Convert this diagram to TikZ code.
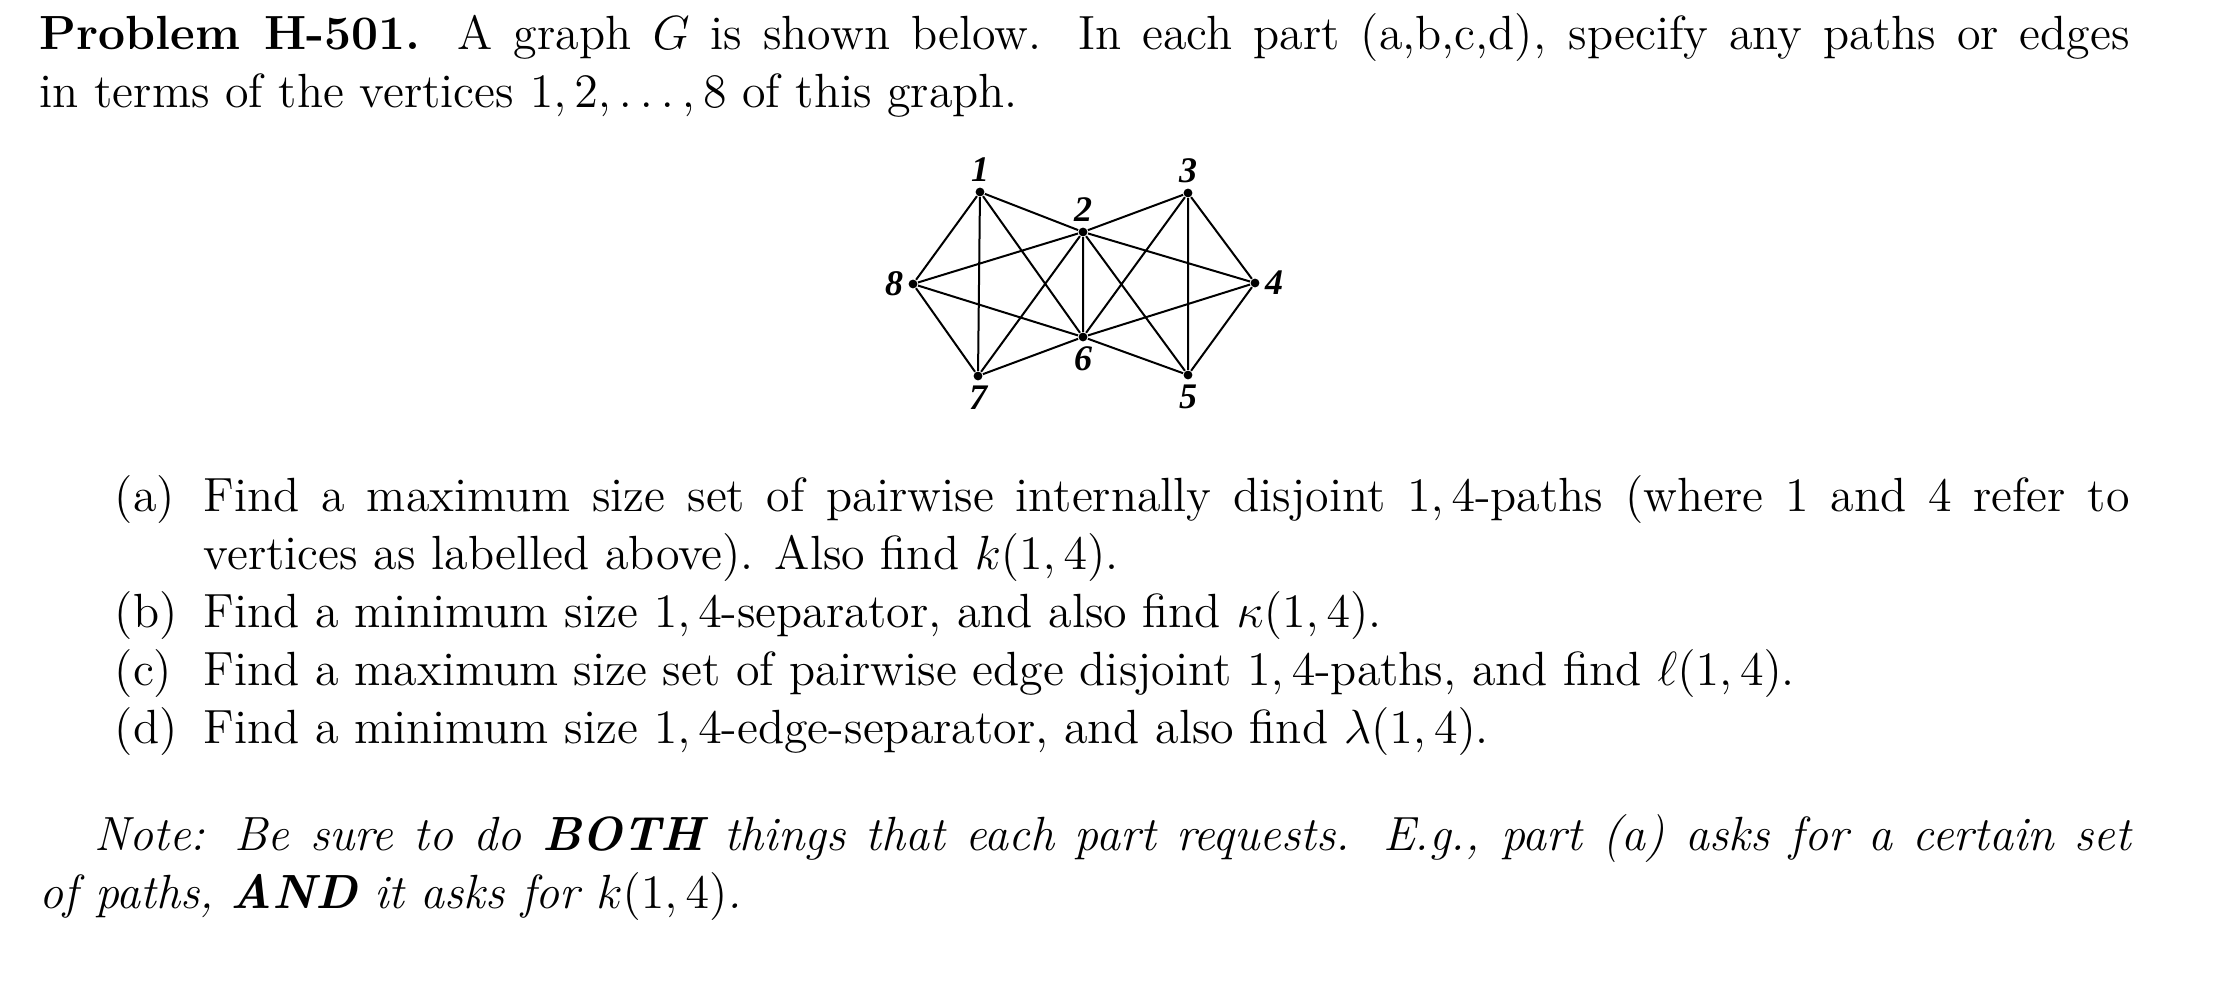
\documentclass[tikz,border=0pt]{standalone}
\usepackage{fontspec}
\newfontfamily\lbl{Liberation Serif}[BoldItalicFont={* Bold Italic}]
\begin{document}
\begin{tikzpicture}[x=0.25pt,y=-0.25pt,
  v/.style={circle,fill,inner sep=0pt,minimum size=2.2pt},
  vl/.style={font=\lbl\bfseries\itshape\small,inner sep=1pt},
  ln/.style={anchor=base west,inner sep=0pt,font=\fontsize{12}{14.5}\selectfont}]
\useasboundingbox (0,0) rectangle (2240,982);
\node[ln] (t1) at (39,50) {\makebox[522.5pt][s]{\textbf{Problem H-501.} A graph $G$ is shown below. In each part (a,b,c,d), specify any paths or edges}};
\node[ln] (t2) at (39,108) {in terms of the vertices $1,2,\ldots,8$ of this graph.};
\node[v,label={[vl]above:1}] (n1) at (980,192) {};
\node[v,label={[vl]above:2}] (n2) at (1083,232) {};
\node[v,label={[vl]above:3}] (n3) at (1188,193) {};
\node[v,label={[vl]right:4}] (n4) at (1255,283) {};
\node[v,label={[vl]below:5}] (n5) at (1188,375) {};
\node[v,label={[vl]below:6}] (n6) at (1083,337) {};
\node[v,label={[vl]below:7}] (n7) at (978,376) {};
\node[v,label={[vl]left:8}] (n8) at (913,284) {};
\draw[line width=0.5pt] (n1)--(n8) (n1)--(n7) (n1)--(n2) (n1)--(n6)
  (n8)--(n2) (n8)--(n6) (n8)--(n7) (n7)--(n2) (n7)--(n6)
  (n2)--(n6) (n2)--(n3) (n2)--(n4) (n2)--(n5)
  (n6)--(n3) (n6)--(n4) (n6)--(n5) (n3)--(n5) (n3)--(n4) (n5)--(n4);
\node[ln] (la) at (114,512) {(a)};
\node[ln] (a1) at (203,512) {\makebox[481.5pt][s]{Find a maximum size set of pairwise internally disjoint $1,4$-paths (where 1 and 4 refer to}};
\node[ln] (a2) at (203,570) {vertices as labelled above). Also find $k(1,4)$.};
\node[ln] (lb) at (114,628) {(b)};
\node[ln] (b1) at (203,628) {Find a minimum size $1,4$-separator, and also find $\kappa(1,4)$.};
\node[ln] (lc) at (114,686) {(c)};
\node[ln] (c1) at (203,686) {Find a maximum size set of pairwise edge disjoint $1,4$-paths, and find $\ell(1,4)$.};
\node[ln] (ld) at (114,744) {(d)};
\node[ln] (d1) at (203,744) {Find a minimum size $1,4$-edge-separator, and also find $\lambda(1,4)$.};
\node[ln] (e1) at (94,851) {\makebox[509pt][s]{\itshape Note: Be sure to do \textbf{BOTH} things that each part requests. E.g., part (a) asks for a certain set}};
\node[ln] (e2) at (39,909) {\itshape of paths, \textbf{AND} it asks for $k(1,4)$.};
\end{tikzpicture}
\end{document}
